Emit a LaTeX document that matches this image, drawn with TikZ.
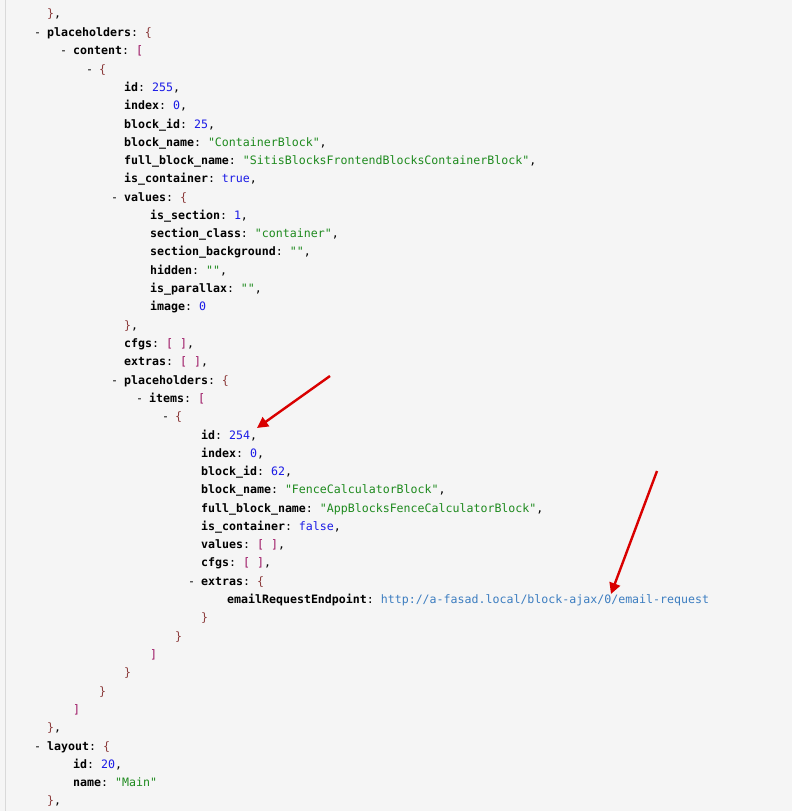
\documentclass[tikz,border=0pt]{standalone}
\usepackage{fontspec}
\setmonofont{DejaVu Sans Mono}
\usetikzlibrary{arrows.meta}
\definecolor{bg}{HTML}{F5F5F5}
\definecolor{numc}{HTML}{1A1AE6}
\definecolor{strc}{HTML}{1E8A1E}
\definecolor{brc}{HTML}{8B3A3A}
\definecolor{sqc}{HTML}{9A1060}
\definecolor{urlc}{HTML}{3C7DC0}
\definecolor{arr}{HTML}{D90000}
\newcommand\Kk[1]{\textbf{#1}}
\newcommand\Nn[1]{\textcolor{numc}{#1}}
\newcommand\Ss[1]{\textcolor{strc}{#1}}
\newcommand\Bb[1]{\textcolor{brc}{#1}}
\newcommand\Qq[1]{\textcolor{sqc}{#1}}
\tikzset{ln/.style={anchor=base west,inner sep=0pt,font=\ttfamily\fontsize{11.6}{14}\selectfont},
 redarrow/.style={draw=arr,line width=2.4pt,-{Triangle[length=11pt,width=11pt]}}}
\newcommand\Ln[4]{\node[ln] (#1) at (#2,#3+4) {#4};}
\newcommand\Dl[4]{\node[ln] (#1) at (#2-13,#3+4) {-}; \node[ln] (#1k) at (#2,#3+4) {#4};}
\begin{document}
\begin{tikzpicture}[x=1pt,y=-1pt]
\fill[bg] (0,0) rectangle (792,811);
\useasboundingbox (0,0) rectangle (792,811);
\draw[black!15,line width=1pt] (5,0) -- (5,811);
\Ln{a1}{47}{13}{\Bb{\}},}
\Dl{a2}{47}{32}{\Kk{placeholders}: \Bb{\{}}
\Dl{a3}{73}{50}{\Kk{content}: \Qq{[}}
\Dl{a4}{99}{69}{\Bb{\{}}
\Ln{a5}{124}{87}{\Kk{id}: \Nn{255},}
\Ln{a6}{124}{105}{\Kk{index}: \Nn{0},}
\Ln{a7}{124}{124}{\Kk{block\_id}: \Nn{25},}
\Ln{a8}{124}{142}{\Kk{block\_name}: \Ss{"ContainerBlock"},}
\Ln{a9}{124}{160}{\Kk{full\_block\_name}: \Ss{"SitisBlocksFrontendBlocksContainerBlock"},}
\Ln{a10}{124}{178}{\Kk{is\_container}: \Nn{true},}
\Dl{a11}{124}{197}{\Kk{values}: \Bb{\{}}
\Ln{a12}{150}{215}{\Kk{is\_section}: \Nn{1},}
\Ln{a13}{150}{233}{\Kk{section\_class}: \Ss{"container"},}
\Ln{a14}{150}{251}{\Kk{section\_background}: \Ss{""},}
\Ln{a15}{150}{270}{\Kk{hidden}: \Ss{""},}
\Ln{a16}{150}{288}{\Kk{is\_parallax}: \Ss{""},}
\Ln{a17}{150}{306}{\Kk{image}: \Nn{0}}
\Ln{a18}{124}{325}{\Bb{\}},}
\Ln{a19}{124}{343}{\Kk{cfgs}: \Qq{[ ]},}
\Ln{a20}{124}{361}{\Kk{extras}: \Qq{[ ]},}
\Dl{a21}{124}{380}{\Kk{placeholders}: \Bb{\{}}
\Dl{a22}{149}{398}{\Kk{items}: \Qq{[}}
\Dl{a23}{175}{416}{\Bb{\{}}
\Ln{a24}{201}{435}{\Kk{id}: \Nn{254},}
\Ln{a25}{201}{453}{\Kk{index}: \Nn{0},}
\Ln{a26}{201}{471}{\Kk{block\_id}: \Nn{62},}
\Ln{a27}{201}{489}{\Kk{block\_name}: \Ss{"FenceCalculatorBlock"},}
\Ln{a28}{201}{508}{\Kk{full\_block\_name}: \Ss{"AppBlocksFenceCalculatorBlock"},}
\Ln{a29}{201}{526}{\Kk{is\_container}: \Nn{false},}
\Ln{a30}{201}{544}{\Kk{values}: \Qq{[ ]},}
\Ln{a31}{201}{562}{\Kk{cfgs}: \Qq{[ ]},}
\Dl{a32}{201}{581}{\Kk{extras}: \Bb{\{}}
\Ln{a33}{227}{599}{\Kk{emailRequestEndpoint}: \textcolor{urlc}{http://a-fasad.local/block-ajax/0/email-request}}
\Ln{a34}{201}{617}{\Bb{\}}}
\Ln{a35}{175}{636}{\Bb{\}}}
\Ln{a36}{150}{654}{\Qq{]}}
\Ln{a37}{124}{672}{\Bb{\}}}
\Ln{a38}{99}{691}{\Bb{\}}}
\Ln{a39}{73}{709}{\Qq{]}}
\Ln{a40}{47}{727}{\Bb{\}},}
\Dl{a41}{47}{746}{\Kk{layout}: \Bb{\{}}
\Ln{a42}{73}{764}{\Kk{id}: \Nn{20},}
\Ln{a43}{73}{782}{\Kk{name}: \Ss{"Main"}}
\Ln{a44}{47}{800}{\Bb{\}},}
\coordinate (s1) at (330,376); \coordinate (t1) at (257,428);
\coordinate (s2) at (657,471); \coordinate (t2) at (611,594);
\draw[redarrow] (s1) -- (t1);
\draw[redarrow] (s2) -- (t2);
\end{tikzpicture}
\end{document}
